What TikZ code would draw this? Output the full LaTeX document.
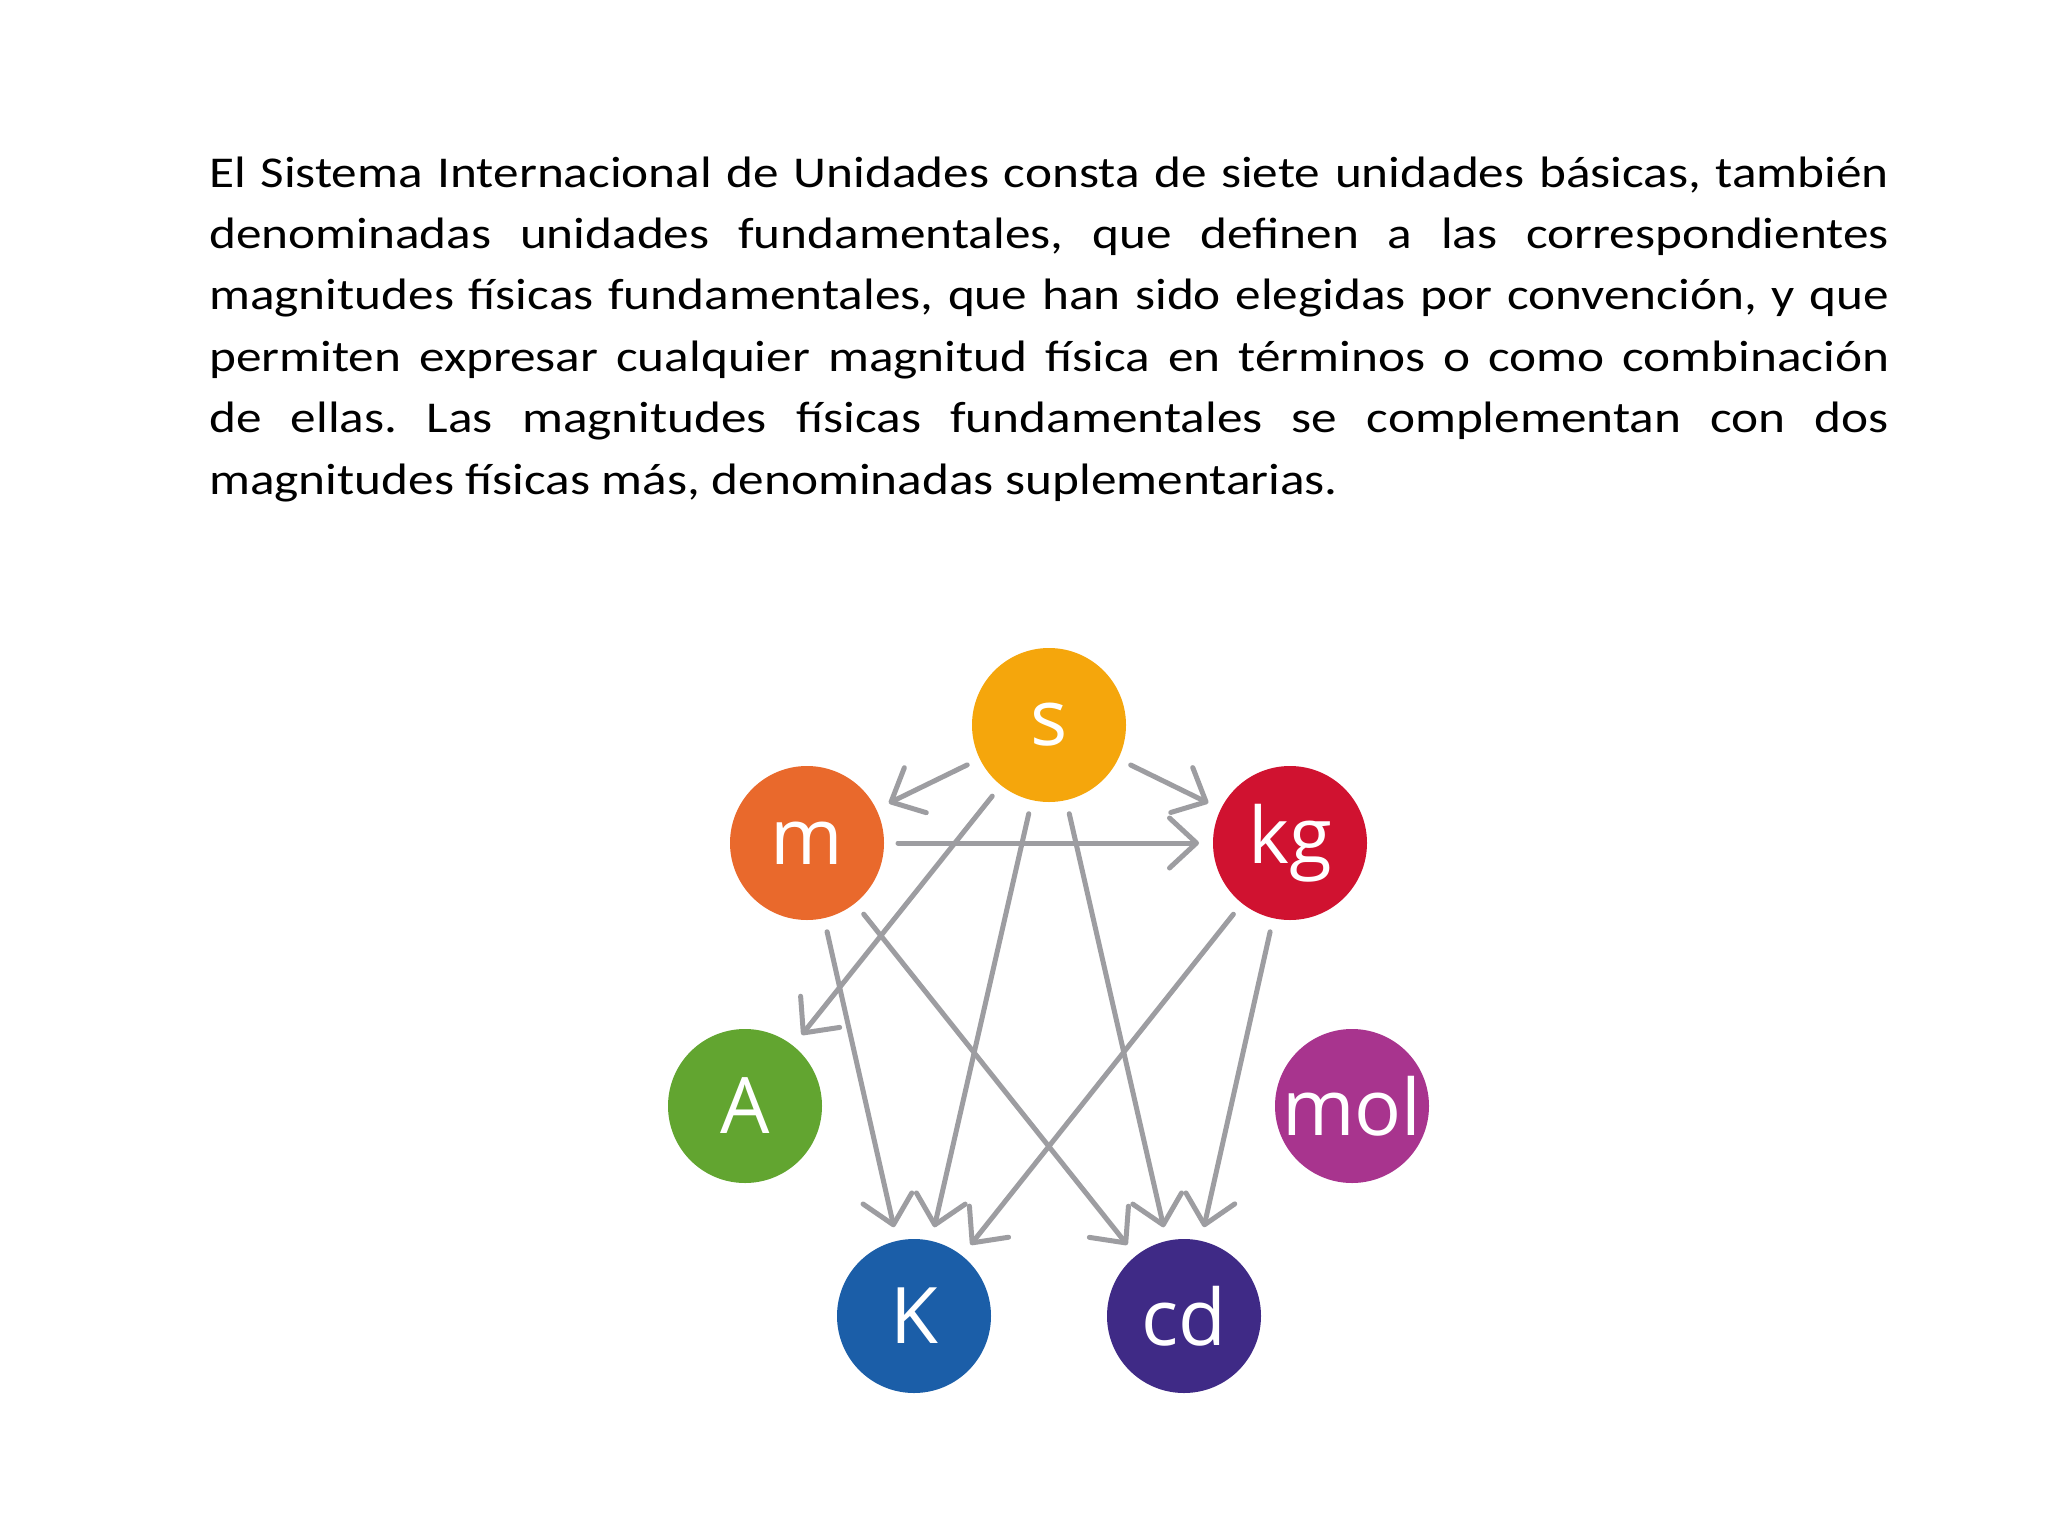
\documentclass[tikz,border=0pt]{standalone}
\usepackage{fontspec}
\setmainfont{Carlito}[FakeStretch=1.165]
\newfontfamily\unitfont{Open Sans}
\usetikzlibrary{arrows.meta}
\definecolor{cs}{HTML}{F5A60C}
\definecolor{cm}{HTML}{E9692C}
\definecolor{ckg}{HTML}{D01230}
\definecolor{cA}{HTML}{62A530}
\definecolor{cmol}{HTML}{A8348E}
\definecolor{cK}{HTML}{1B5EA8}
\definecolor{ccd}{HTML}{3F2A86}
\definecolor{arrowgray}{HTML}{9D9DA1}
\tikzset{
  unit/.style={circle, minimum size=154pt, inner sep=0pt, outer sep=14pt,
    text=white, font=\unitfont\fontsize{78}{78}\selectfont},
  link/.style={draw=arrowgray, line width=5pt, line cap=round,
    -{Straight Barb[length=27pt, width=50pt, line width=5pt, round]}},
  para/.style={anchor=base west, inner sep=0pt, font=\frenchspacing\fontsize{44}{61.4}\selectfont}
}
\begin{document}
\begin{tikzpicture}[x=1pt, y=-1pt]
\useasboundingbox[fill=white] (0,0) rectangle (2048,1536);
% paragraph
\node[para] (l1) at (209,187) {\makebox[1680pt][s]{El Sistema Internacional de Unidades consta de siete unidades básicas, también}};
\node[para] (l2) at (209,248.4) {\makebox[1680pt][s]{denominadas unidades fundamentales, que definen a las correspondientes}};
\node[para] (l3) at (209,309.8) {\makebox[1680pt][s]{magnitudes físicas fundamentales, que han sido elegidas por convención, y que}};
\node[para] (l4) at (209,371.2) {\makebox[1680pt][s]{permiten expresar cualquier magnitud física en términos o como combinación}};
\node[para] (l5) at (209,432.6) {\makebox[1680pt][s]{de ellas. Las magnitudes físicas fundamentales se complementan con dos}};
\node[para] (l6) at (209,494) {magnitudes físicas más, denominadas suplementarias.};
% units
\node[unit, fill=cs]   (s)   at (1049,725)  {s};
\node[unit, fill=cm]   (m)   at (807,843)   {m};
\node[unit, fill=ckg]  (kg)  at (1290,843)  {kg};
\node[unit, fill=cA]   (A)   at (745,1106)  {A};
\node[unit, fill=cmol] (mol) at (1352,1106) {mol};
\node[unit, fill=cK]   (K)   at (914,1316)  {K};
\node[unit, fill=ccd]  (cd)  at (1184,1316) {cd};
% arrows
\draw[link] (s) -- (m);
\draw[link] (s) -- (kg);
\draw[link] (m) -- (kg);
\draw[link] (s) -- (A);
\draw[link] (s) -- (K);
\draw[link] (s) -- (cd);
\draw[link] (m) -- (K);
\draw[link] (m) -- (cd);
\draw[link] (kg) -- (K);
\draw[link] (kg) -- (cd);
\end{tikzpicture}
\end{document}
